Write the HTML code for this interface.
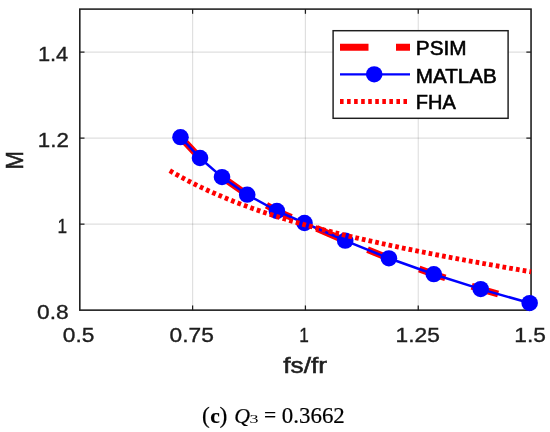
<!DOCTYPE html>
<html><head><meta charset="utf-8"><title>Figure</title>
<style>html,body{margin:0;padding:0;background:#fff}body{width:550px;height:432px;overflow:hidden}</style></head>
<body>
<svg width="550" height="432" viewBox="0 0 550 432" style="display:block">
<rect width="550" height="432" fill="#fff"/>
<line x1="79.80" x2="79.80" y1="9.1" y2="310.15" stroke="#262626" stroke-opacity="0.15" stroke-width="1.15"/>
<line x1="192.61" x2="192.61" y1="9.1" y2="310.15" stroke="#262626" stroke-opacity="0.15" stroke-width="1.15"/>
<line x1="305.42" x2="305.42" y1="9.1" y2="310.15" stroke="#262626" stroke-opacity="0.15" stroke-width="1.15"/>
<line x1="418.24" x2="418.24" y1="9.1" y2="310.15" stroke="#262626" stroke-opacity="0.15" stroke-width="1.15"/>
<line x1="531.05" x2="531.05" y1="9.1" y2="310.15" stroke="#262626" stroke-opacity="0.15" stroke-width="1.15"/>
<line x1="79.8" x2="531.05" y1="310.15" y2="310.15" stroke="#262626" stroke-opacity="0.15" stroke-width="1.15"/>
<line x1="79.8" x2="531.05" y1="224.14" y2="224.14" stroke="#262626" stroke-opacity="0.15" stroke-width="1.15"/>
<line x1="79.8" x2="531.05" y1="138.12" y2="138.12" stroke="#262626" stroke-opacity="0.15" stroke-width="1.15"/>
<line x1="79.8" x2="531.05" y1="52.11" y2="52.11" stroke="#262626" stroke-opacity="0.15" stroke-width="1.15"/>
<rect x="79.8" y="9.1" width="451.25" height="301.05" fill="none" stroke="#1e1e1e" stroke-width="1.55"/>
<line x1="192.61" x2="192.61" y1="310.15" y2="305.45" stroke="#1e1e1e" stroke-width="1.25"/>
<line x1="192.61" x2="192.61" y1="9.1" y2="13.8" stroke="#1e1e1e" stroke-width="1.25"/>
<line x1="305.42" x2="305.42" y1="310.15" y2="305.45" stroke="#1e1e1e" stroke-width="1.25"/>
<line x1="305.42" x2="305.42" y1="9.1" y2="13.8" stroke="#1e1e1e" stroke-width="1.25"/>
<line x1="418.24" x2="418.24" y1="310.15" y2="305.45" stroke="#1e1e1e" stroke-width="1.25"/>
<line x1="418.24" x2="418.24" y1="9.1" y2="13.8" stroke="#1e1e1e" stroke-width="1.25"/>
<line x1="79.8" x2="84.5" y1="224.14" y2="224.14" stroke="#1e1e1e" stroke-width="1.25"/>
<line x1="531.05" x2="526.3499999999999" y1="224.14" y2="224.14" stroke="#1e1e1e" stroke-width="1.25"/>
<line x1="79.8" x2="84.5" y1="138.12" y2="138.12" stroke="#1e1e1e" stroke-width="1.25"/>
<line x1="531.05" x2="526.3499999999999" y1="138.12" y2="138.12" stroke="#1e1e1e" stroke-width="1.25"/>
<line x1="79.8" x2="84.5" y1="52.11" y2="52.11" stroke="#1e1e1e" stroke-width="1.25"/>
<line x1="531.05" x2="526.3499999999999" y1="52.11" y2="52.11" stroke="#1e1e1e" stroke-width="1.25"/>
<polyline points="180.5,137.2 200,158 222,177.1 247.2,194.7 276.9,211 304.5,223 345.2,240.7 388.9,258.3 433.8,274.2 480.7,289.1 529.65,303.05" fill="none" stroke="#f00" stroke-width="6.8" stroke-dasharray="27.6 27.6"/>
<polyline points="180.5,137.2 200,158 222,177.1 247.2,194.7 276.9,211 304.5,223 345.2,240.7 388.9,258.3 433.8,274.2 480.7,289.1 529.65,303.05" fill="none" stroke="#00f" stroke-width="2.5"/>
<ellipse cx="180.5" cy="137.2" rx="8.3" ry="8.15" fill="#00f"/>
<ellipse cx="200" cy="158" rx="8.3" ry="8.15" fill="#00f"/>
<ellipse cx="222" cy="177.1" rx="8.3" ry="8.15" fill="#00f"/>
<ellipse cx="247.2" cy="194.7" rx="8.3" ry="8.15" fill="#00f"/>
<ellipse cx="276.9" cy="211" rx="8.3" ry="8.15" fill="#00f"/>
<ellipse cx="304.5" cy="223" rx="8.3" ry="8.15" fill="#00f"/>
<ellipse cx="345.2" cy="240.7" rx="8.3" ry="8.15" fill="#00f"/>
<ellipse cx="388.9" cy="258.3" rx="8.3" ry="8.15" fill="#00f"/>
<ellipse cx="433.8" cy="274.2" rx="8.3" ry="8.15" fill="#00f"/>
<ellipse cx="480.7" cy="289.1" rx="8.3" ry="8.15" fill="#00f"/>
<ellipse cx="529.65" cy="303.05" rx="8.3" ry="8.15" fill="#00f"/>
<polyline points="169.80,170.69 174.37,173.33 178.95,175.90 183.52,178.38 188.09,180.80 192.66,183.14 197.24,185.41 201.81,187.62 206.38,189.76 210.96,191.84 215.53,193.86 220.10,195.83 224.67,197.75 229.25,199.61 233.82,201.43 238.39,203.20 242.96,204.92 247.54,206.60 252.11,208.25 256.68,209.85 261.26,211.42 265.83,212.95 270.40,214.44 274.97,215.91 279.55,217.34 284.12,218.75 288.69,220.12 293.27,221.47 297.84,222.79 302.41,224.09 306.98,225.37 311.56,226.62 316.13,227.85 320.70,229.06 325.27,230.25 329.85,231.42 334.42,232.57 338.99,233.71 343.57,234.82 348.14,235.93 352.71,237.01 357.28,238.08 361.86,239.14 366.43,240.18 371.00,241.21 375.58,242.23 380.15,243.24 384.72,244.23 389.29,245.21 393.87,246.18 398.44,247.14 403.01,248.09 407.58,249.03 412.16,249.97 416.73,250.89 421.30,251.80 425.88,252.71 430.45,253.61 435.02,254.50 439.59,255.38 444.17,256.26 448.74,257.12 453.31,257.99 457.89,258.84 462.46,259.69 467.03,260.53 471.60,261.37 476.18,262.20 480.75,263.03 485.32,263.85 489.89,264.66 494.47,265.47 499.04,266.28 503.61,267.08 508.19,267.88 512.76,268.67 517.33,269.46 521.90,270.24 526.48,271.02 531.05,271.80" fill="none" stroke="#f00" stroke-width="4.9" stroke-dasharray="3.7 3.124"/>
<rect x="333.1" y="30.7" width="175.0" height="87.6" fill="#fff" stroke="#1e1e1e" stroke-width="1.45"/>
<line x1="340" x2="410" y1="47.3" y2="47.3" stroke="#f00" stroke-width="7" stroke-dasharray="28.5 27.5"/>
<line x1="340" x2="410" y1="74.3" y2="74.3" stroke="#00f" stroke-width="2.2"/>
<ellipse cx="374.2" cy="74.3" rx="8.3" ry="8.15" fill="#00f"/>
<line x1="340" x2="407" y1="101.5" y2="101.5" stroke="#f00" stroke-width="4.9" stroke-dasharray="3.6 3.45"/>
<g font-family="'Liberation Sans', Arial, Helvetica, sans-serif" stroke="#1e1e1e" stroke-width="0.35">
<text x="415.8" y="55.1" font-size="19.6" text-anchor="start" fill="#000" textLength="50.8" lengthAdjust="spacingAndGlyphs" stroke="#000" stroke-width="0.55">PSIM</text>
<text x="415.8" y="82.6" font-size="19.6" text-anchor="start" fill="#000" textLength="81" lengthAdjust="spacingAndGlyphs" stroke="#000" stroke-width="0.55">MATLAB</text>
<text x="415.8" y="109.3" font-size="19.6" text-anchor="start" fill="#000" textLength="40" lengthAdjust="spacingAndGlyphs" stroke="#000" stroke-width="0.55">FHA</text>
<text x="37.9" y="60.6" font-size="19.6" text-anchor="start" fill="#1e1e1e" textLength="30.4" lengthAdjust="spacingAndGlyphs">1.4</text>
<text x="37.8" y="146.7" font-size="19.6" text-anchor="start" fill="#1e1e1e" textLength="31" lengthAdjust="spacingAndGlyphs">1.2</text>
<text x="57.4" y="232.6" font-size="19.6" text-anchor="start" fill="#1e1e1e" textLength="9.6" lengthAdjust="spacingAndGlyphs">1</text>
<text x="37.0" y="318.8" font-size="19.6" text-anchor="start" fill="#1e1e1e" textLength="31.6" lengthAdjust="spacingAndGlyphs">0.8</text>
<text x="62.8" y="341.9" font-size="19.6" text-anchor="start" fill="#1e1e1e" textLength="31.6" lengthAdjust="spacingAndGlyphs">0.5</text>
<text x="169.6" y="341.9" font-size="19.6" text-anchor="start" fill="#1e1e1e" textLength="44.3" lengthAdjust="spacingAndGlyphs">0.75</text>
<text x="299.2" y="341.9" font-size="19.6" text-anchor="start" fill="#1e1e1e" textLength="9.6" lengthAdjust="spacingAndGlyphs">1</text>
<text x="395.5" y="341.9" font-size="19.6" text-anchor="start" fill="#1e1e1e" textLength="44.3" lengthAdjust="spacingAndGlyphs">1.25</text>
<text x="514.3" y="341.9" font-size="19.6" text-anchor="start" fill="#1e1e1e" textLength="31.6" lengthAdjust="spacingAndGlyphs">1.5</text>
<text x="283.3" y="373.2" font-size="22.6" text-anchor="start" fill="#1e1e1e" textLength="43.7" lengthAdjust="spacingAndGlyphs" stroke-width="0.55">fs/fr</text>
<text transform="translate(22.8,169.4) rotate(-90)" font-size="23.5" fill="#1e1e1e" stroke-width="0.55" textLength="18.3" lengthAdjust="spacingAndGlyphs">M</text>
</g>
<g font-family="'Liberation Serif', 'Times New Roman', serif" fill="#000" stroke="#000" stroke-width="0.2">
<text x="201.9" y="423" font-size="23.5">(</text>
<text x="210.2" y="422.6" font-size="21.5" font-weight="bold">c</text>
<text x="219.6" y="423" font-size="23.5">)</text>
<text x="234.3" y="422.8" font-size="21.8" font-style="italic">Q</text>
<text x="249.4" y="423" font-size="12.8" textLength="9.0" lengthAdjust="spacingAndGlyphs" stroke="none">3</text>
<text x="264.0" y="422.0" font-size="21.5">=</text>
<text x="281.8" y="422.6" font-size="23.4" textLength="63" lengthAdjust="spacingAndGlyphs">0.3662</text>
</g>
</svg>
</body></html>
